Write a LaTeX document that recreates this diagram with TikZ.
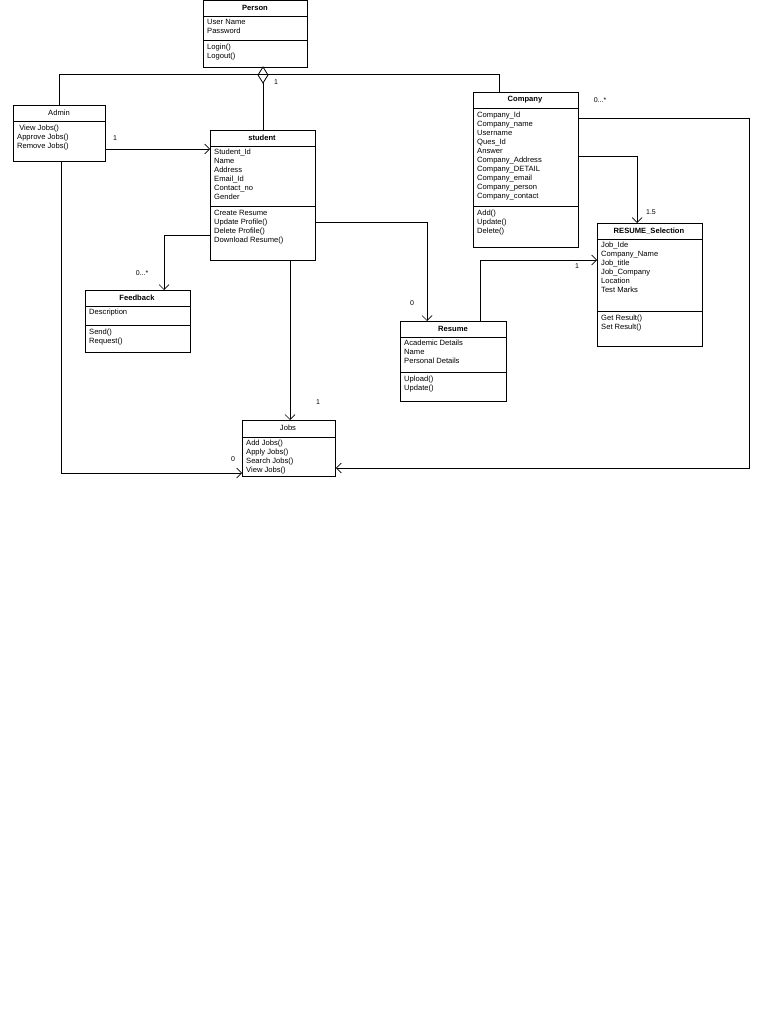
\documentclass[tikz,border=0pt]{standalone}
\usepackage{fontspec}
\setmainfont{Liberation Sans}
\usetikzlibrary{arrows.meta,calc}
\begin{document}
\begin{tikzpicture}[x=1pt,y=-1pt,
  box/.style={draw,line width=0.9pt,anchor=north west,inner sep=0pt},
  txt/.style={anchor=north west,align=left,inner sep=0pt,font=\fontsize{7.6}{9}\selectfont},
  ttl/.style={anchor=center,inner sep=0pt,font=\fontsize{7.6}{9}\selectfont\bfseries},
  ttlr/.style={anchor=center,inner sep=0pt,font=\fontsize{7.6}{9}\selectfont},
  lbl/.style={inner sep=0pt,font=\fontsize{7}{8}\selectfont},
  conn/.style={line width=0.7pt,-{Straight Barb[length=5pt,width=10pt]}},
  plain/.style={line width=0.7pt}]
\useasboundingbox (0,0) rectangle (768,1024);
% Person
\node[box,minimum width=104pt,minimum height=67pt] (person) at (203,0) {};
\draw[line width=0.9pt] (203,16)--(307,16) (203,40)--(307,40);
\node[ttl] (personT) at (255,8) {Person};
\node[txt] (personA) at (207,19) {User Name\\Password};
\node[txt] (personM) at (207,44) {Login()\\Logout()};
% Admin
\node[box,minimum width=92pt,minimum height=56pt] (admin) at (13,105) {};
\draw[line width=0.9pt] (13,121)--(105,121);
\node[ttlr] (adminT) at (59,113) {Admin};
\node[txt] (adminM) at (17,125) {\ View Jobs()\\Approve Jobs()\\Remove Jobs()};
% student
\node[box,minimum width=105pt,minimum height=130pt] (student) at (210,130) {};
\draw[line width=0.9pt] (210,146)--(315,146) (210,206)--(315,206);
\node[ttl] (studentT) at (262,138) {student};
\node[txt] (studentA) at (214,149) {Student\_Id\\Name\\Address\\Email\_Id\\Contact\_no\\Gender};
\node[txt] (studentM) at (214,210) {Create Resume\\Update Profile()\\Delete Profile()\\Download Resume()};
% Company
\node[box,minimum width=105pt,minimum height=155pt] (company) at (473,92) {};
\draw[line width=0.9pt] (473,108)--(578,108) (473,206)--(578,206);
\node[ttl] (companyT) at (525,100) {Company};
\node[txt] (companyA) at (477,112) {Company\_Id\\Company\_name\\Username\\Ques\_Id\\Answer\\Company\_Address\\Company\_DETAIL\\Company\_email\\Company\_person\\Company\_contact};
\node[txt] (companyM) at (477,210) {Add()\\Update()\\Delete()};
% RESUME_Selection
\node[box,minimum width=105pt,minimum height=123pt] (rsel) at (597,223) {};
\draw[line width=0.9pt] (597,239)--(702,239) (597,311)--(702,311);
\node[ttl] (rselT) at (649,231) {RESUME\_Selection};
\node[txt] (rselA) at (601,242) {Job\_Ide\\Company\_Name\\Job\_title\\Job\_Company\\Location\\Test Marks};
\node[txt] (rselM) at (601,315) {Get Result()\\Set Result()};
% Feedback
\node[box,minimum width=105pt,minimum height=62pt] (feedback) at (85,290) {};
\draw[line width=0.9pt] (85,306)--(190,306) (85,325)--(190,325);
\node[ttl] (feedbackT) at (137,298) {Feedback};
\node[txt] (feedbackA) at (89,309) {Description};
\node[txt] (feedbackM) at (89,329) {Send()\\Request()};
% Resume
\node[box,minimum width=106pt,minimum height=80pt] (resume) at (400,321) {};
\draw[line width=0.9pt] (400,337)--(506,337) (400,372)--(506,372);
\node[ttl] (resumeT) at (453,329) {Resume};
\node[txt] (resumeA) at (404,340) {Academic Details\\Name\\Personal Details};
\node[txt] (resumeM) at (404,376) {Upload()\\Update()};
% Jobs
\node[box,minimum width=93pt,minimum height=56pt] (jobs) at (242,420) {};
\draw[line width=0.9pt] (242,437)--(335,437);
\node[ttlr] (jobsT) at (288,428) {Jobs};
\node[txt] (jobsM) at (246,440) {Add Jobs()\\Apply Jobs()\\Search Jobs()\\View Jobs()};
% coordinates
\coordinate (dtop) at (263,67);
\coordinate (dbot) at (263,83);
\draw[line width=0.8pt,fill=white] (dtop) -- (268,75) -- (dbot) -- (258,75) -- cycle;
\draw[plain] (dbot) -- (student.north -| dbot);
\draw[plain] ([xshift=46pt]admin.north west) -- ++(0,-31) -| ([xshift=26pt]company.north west);
\node[lbl] (l1) at (276,82) {1};
% Admin -> student
\draw[conn] ([yshift=-44pt]admin.north east) -- ([yshift=-19pt]student.north west);
\node[lbl] (l2) at (115,138) {1};
% Admin -> Jobs
\draw[conn] ([xshift=48pt]admin.south west) |- ([yshift=-53pt]jobs.north west);
\node[lbl] (l3) at (233,459) {0};
% student -> Feedback
\draw[conn] ([yshift=-105pt]student.north west) -| ([xshift=79pt]feedback.north west);
\node[lbl] (l4) at (142,273) {0...*};
% student -> Jobs
\draw[conn] ([xshift=80pt]student.south west) -- ([xshift=48pt]jobs.north west);
\node[lbl] (l5) at (318,402) {1};
% student -> Resume
\draw[conn] ([yshift=-92pt]student.north east) -| ([xshift=27pt]resume.north west);
\node[lbl] (l6) at (412,303) {0};
% Resume -> RESUME_Selection
\draw[conn] ([xshift=80pt]resume.north west) |- ([yshift=-37pt]rsel.north west);
\node[lbl] (l7) at (577,266) {1};
% Company -> RESUME_Selection
\draw[conn] ([yshift=-64pt]company.north east) -| ([xshift=40pt]rsel.north west);
\node[lbl] (l8) at (651,212) {1.5};
% Company -> Jobs
\coordinate (cr) at (749,468);
\draw[conn] ([yshift=-26pt]company.north east) -| (cr) -- ([yshift=-48pt]jobs.north east);
\node[lbl] (l9) at (600,100) {0...*};
\end{tikzpicture}
\end{document}
